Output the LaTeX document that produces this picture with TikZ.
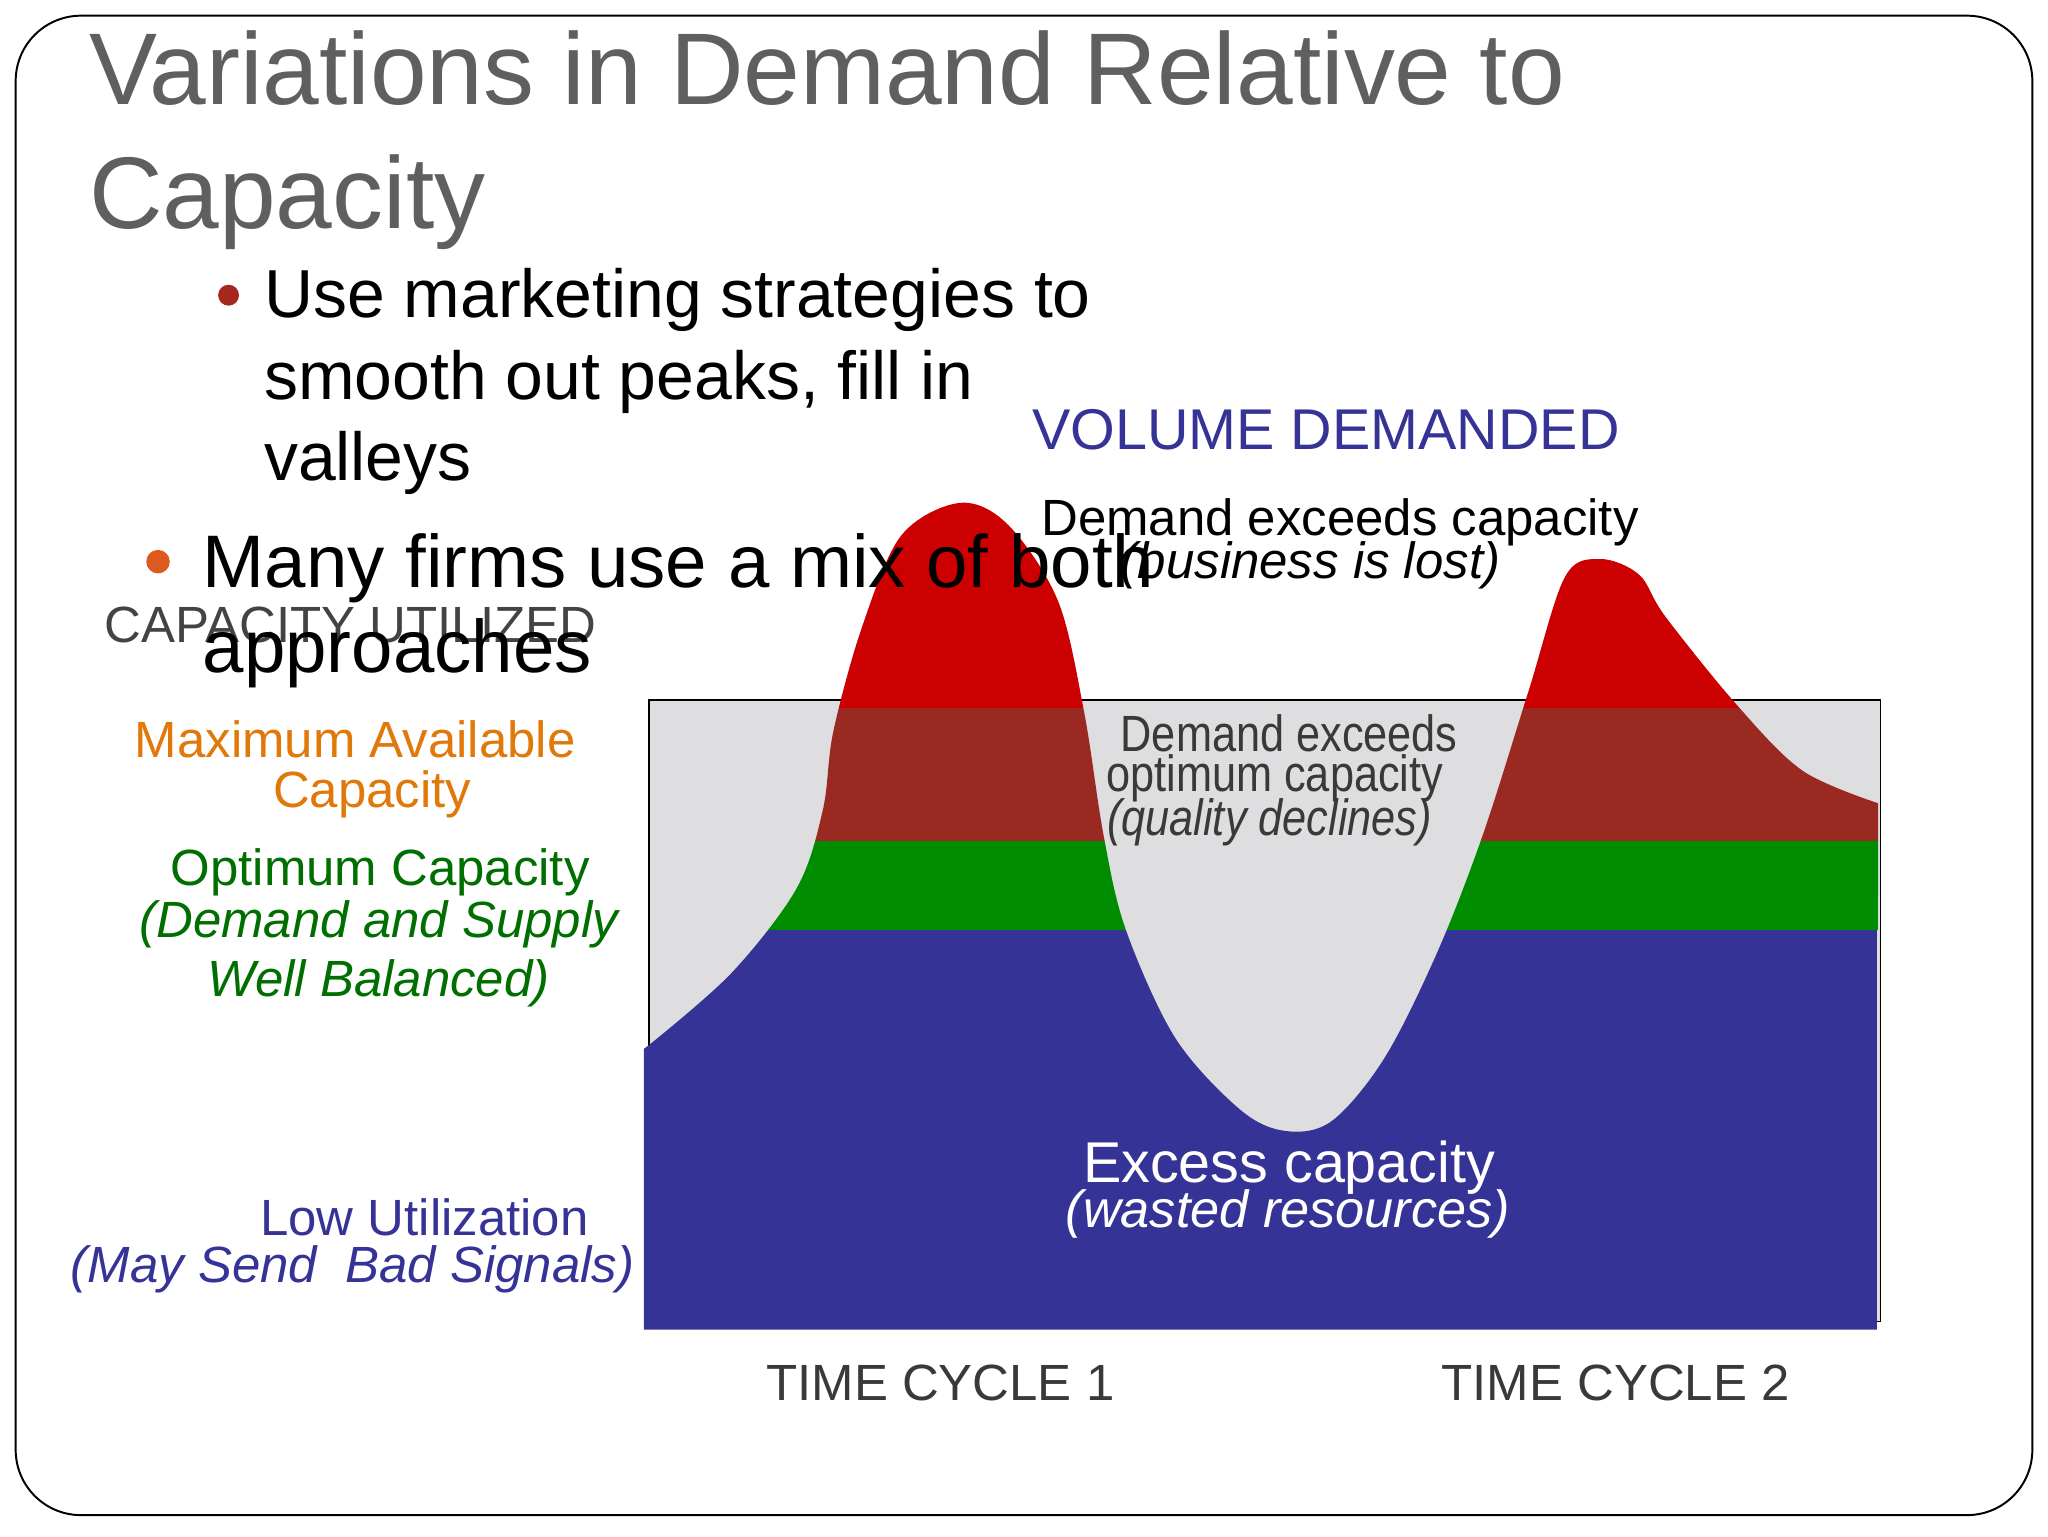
\documentclass[tikz,border=0pt]{standalone}
\usepackage{fontspec}
\setmainfont{Liberation Sans}
\definecolor{titlegray}{RGB}{95,95,95}
\definecolor{vblue}{RGB}{54,51,150}
\definecolor{dred}{RGB}{153,41,33}
\definecolor{bred}{RGB}{204,0,0}
\definecolor{ggreen}{RGB}{0,140,0}
\definecolor{lgreen}{RGB}{0,110,0}
\definecolor{orng}{RGB}{225,120,10}
\definecolor{lgray}{RGB}{222,221,224}
\definecolor{bul1}{RGB}{165,40,30}
\definecolor{bul2}{RGB}{220,90,30}
\tikzset{txt/.style={inner sep=0pt,anchor=base west},
 ctr/.style={inner sep=0pt,anchor=base}}
\begin{document}
\begin{tikzpicture}[x=1pt,y=-1pt]
\useasboundingbox (0,0) rectangle (1568,1176);
\draw[line width=1.5pt,rounded corners=50pt] (12,12) rectangle (1556,1160);
\node[txt,text=titlegray,font=\fontsize{78}{86}\selectfont] (t1) at (68,80) {Variations in Demand Relative to};
\node[txt,text=titlegray,font=\fontsize{78}{86}\selectfont] (t2) at (68,175) {Capacity};
% chart
\fill[lgray] (497,536) rectangle (1440,1012);
\draw[line width=1pt] (497,536) rectangle (1440,1012);
\begin{scope}
\clip (493,1018) -- (493,803) -- plot[smooth,tension=0.55] coordinates {(497,800) (560,745) (610,680) (630,620) (638,560) (660,480) (690,410) (735,385) (772,402) (810,460) (830,545) (845,640) (862,712) (900,795) (950,850) (985,866) (1020,858) (1060,810) (1100,730) (1135,640) (1170,530) (1198,442) (1225,428) (1255,440) (1275,472) (1330,540) (1380,590) (1438,615)} -- (1437,1018) -- cycle;
\fill[bred] (480,300) rectangle (1440,542);
\fill[dred] (480,542) rectangle (1440,644);
\fill[ggreen] (480,644) rectangle (1440,712);
\fill[vblue] (480,712) rectangle (1437,1018);
\end{scope}
\node[txt,text=black,font=\fontsize{52}{60}\selectfont] (b1) at (202,243) {Use marketing strategies to};
\node[txt,text=black,font=\fontsize{52}{60}\selectfont] (b1b) at (202,306) {smooth out peaks, fill in};
\node[txt,text=black,font=\fontsize{52}{60}\selectfont] (b1c) at (202,368) {valleys};
\fill[bul1] (175,226) circle (8);
\fill[bul2] (121,430) circle (9);
\node[txt,text=titlegray!70!black,font=\fontsize{39}{46}\selectfont] (cu) at (80,492) {CAPACITY UTILIZED};
\node[txt,text=black,font=\fontsize{57}{64}\selectfont] (b2) at (155,450) {Many firms use a mix of both};
\node[txt,text=black,font=\fontsize{57}{64}\selectfont] (b2b) at (155,515) {approaches};
\node[txt,text=vblue,font=\fontsize{44}{50}\selectfont] (vd) at (790,344) {VOLUME DEMANDED};
\node[txt,text=black,font=\fontsize{39}{44}\selectfont] (de) at (797,410) {Demand exceeds capacity};
\node[txt,text=black,font=\fontsize{39}{44}\selectfont\itshape] (bl) at (858,443) {(business is lost)};
\node[ctr,text=titlegray!60!black,font=\fontsize{39}{44}\selectfont,xscale=0.85] (q1) at (987,575) {Demand exceeds};
\node[ctr,text=titlegray!60!black,font=\fontsize{39}{44}\selectfont,xscale=0.85] (q2) at (976,606) {optimum capacity};
\node[ctr,text=titlegray!60!black,font=\fontsize{39}{44}\selectfont\itshape,xscale=0.85] (q3) at (972,640) {(quality declines)};
\node[ctr,text=white,font=\fontsize{44}{50}\selectfont] (ex) at (987,905) {Excess capacity};
\node[ctr,text=white,font=\fontsize{40}{46}\selectfont\itshape] (wr) at (986,940) {(wasted resources)};
\node[ctr,text=orng,font=\fontsize{39}{48}\selectfont] (ma) at (272,580) {Maximum Available};
\node[ctr,text=orng,font=\fontsize{39}{48}\selectfont] (mb) at (285,618) {Capacity};
\node[ctr,text=lgreen,font=\fontsize{39}{48}\selectfont] (oa) at (291,678) {Optimum Capacity};
\node[ctr,text=lgreen,font=\fontsize{39}{48}\selectfont\itshape] (ob) at (290,718) {(Demand and Supply};
\node[ctr,text=lgreen,font=\fontsize{39}{48}\selectfont\itshape] (oc) at (290,763) {Well Balanced)};
\node[ctr,text=vblue,font=\fontsize{39}{48}\selectfont] (la) at (325,946) {Low Utilization};
\node[ctr,text=vblue,font=\fontsize{39}{48}\selectfont\itshape] (lb) at (270,982) {(May Send\ \ Bad Signals)};
\node[ctr,text=titlegray!60!black,font=\fontsize{39}{46}\selectfont] (c1) at (720,1072) {TIME CYCLE 1};
\node[ctr,text=titlegray!60!black,font=\fontsize{39}{46}\selectfont] (c2) at (1237,1072) {TIME CYCLE 2};
\end{tikzpicture}
\end{document}
